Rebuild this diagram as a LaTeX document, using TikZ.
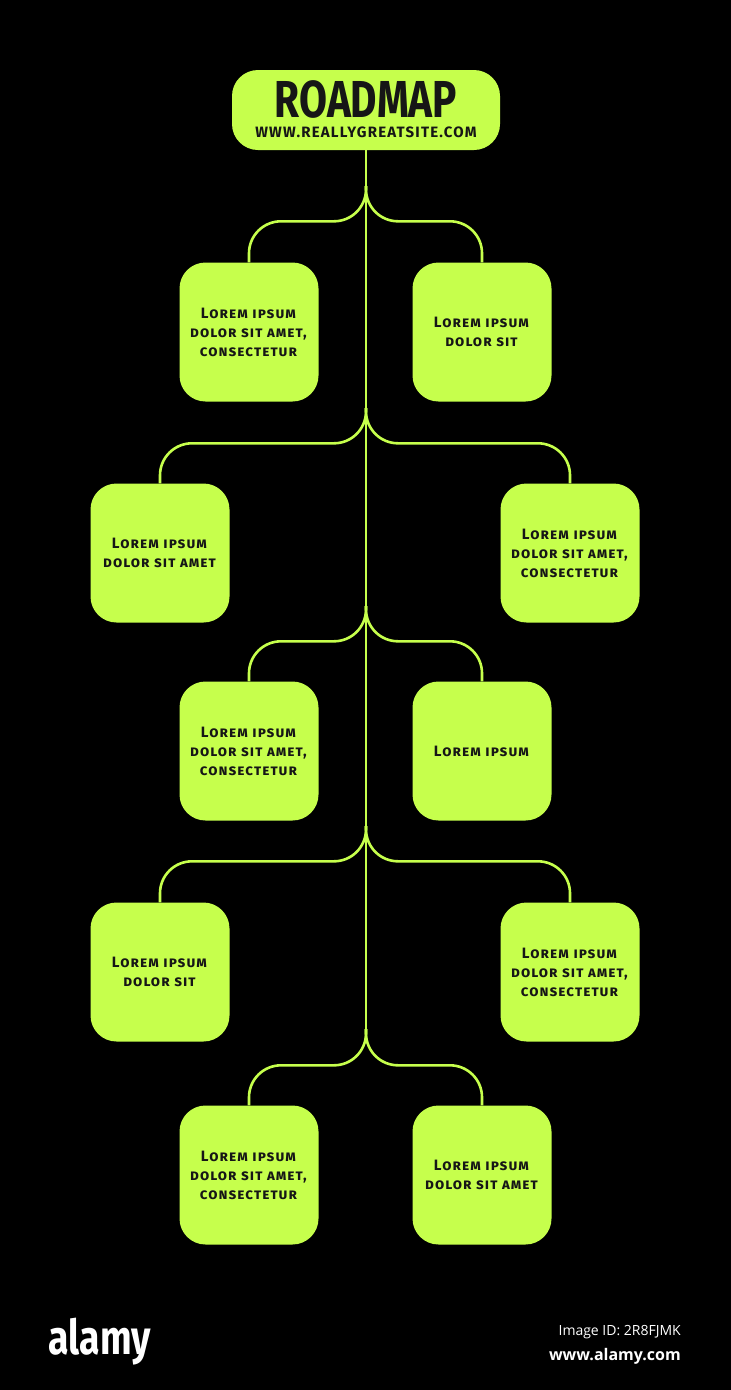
\documentclass[tikz,border=0pt]{standalone}
\usepackage{fontspec}
\setmainfont{Fira Sans}
\newfontfamily\cardfont{Fira Sans}[LetterSpace=7]
\newfontfamily\sitefont{Fira Sans}[LetterSpace=8]
\newfontfamily\headfont{Fira Sans}[FakeStretch=0.78]
\newfontfamily\markfont{Open Sans}
\usetikzlibrary{positioning}

\definecolor{lime}{RGB}{198,255,76}
\definecolor{ink}{RGB}{22,22,22}

\tikzset{
    card/.style={fill=lime, rounded corners=26pt, minimum width=139pt,
        minimum height=139pt, align=center, text=ink, inner sep=0pt,
        font=\cardfont\bfseries\fontsize{15}{19}\selectfont},
    headbox/.style={fill=lime, rounded corners=26pt, minimum width=268pt,
        minimum height=80pt, inner sep=0pt},
    branch/.style={draw=lime, line width=2.6pt, rounded corners=32pt},
    trunk/.style={draw=lime, line width=2.6pt}
}

\begin{document}
\begin{tikzpicture}[x=1pt,y=-1pt]

\fill[black] (0,0) rectangle (731,1390);
\useasboundingbox (0,0) rectangle (731,1390);

% title
\node[headbox] (top) at (366,110) {};
\node[text=ink, inner sep=0pt, align=center, font=\bfseries\fontsize{15}{20}\selectfont] (title) at (366,109)
    {{\headfont\fontsize{52}{52}\selectfont ROADMAP}\\{\sitefont WWW.REALLYGREATSITE.COM}};

% boxes
\node[card] (11) at (249,332) {\textsc{Lorem ipsum}\\\textsc{dolor sit amet,}\\\textsc{consectetur}};
\node[card] (12) at (482,332) {\textsc{Lorem ipsum}\\\textsc{dolor sit}};

\node[card] (21) at (160,553) {\textsc{Lorem ipsum}\\\textsc{dolor sit amet}};
\node[card] (22) at (570,553) {\textsc{Lorem ipsum}\\\textsc{dolor sit amet,}\\\textsc{consectetur}};

\node[card] (31) at (249,751) {\textsc{Lorem ipsum}\\\textsc{dolor sit amet,}\\\textsc{consectetur}};
\node[card] (32) at (482,751) {\textsc{Lorem ipsum}};

\node[card] (41) at (160,972) {\textsc{Lorem ipsum}\\\textsc{dolor sit}};
\node[card] (42) at (570,972) {\textsc{Lorem ipsum}\\\textsc{dolor sit amet,}\\\textsc{consectetur}};

\node[card] (51) at (249,1175) {\textsc{Lorem ipsum}\\\textsc{dolor sit amet,}\\\textsc{consectetur}};
\node[card] (52) at (482,1175) {\textsc{Lorem ipsum}\\\textsc{dolor sit amet}};

% forks on the trunk
\coordinate (f1) at (366,186);
\coordinate (f2) at (366,408);
\coordinate (f3) at (366,606);
\coordinate (f4) at (366,826);
\coordinate (f5) at (366,1029);

\draw[trunk] (top.south)--(f5);

\draw[branch] (f1) |- ([yshift=41pt]11.north) -- (11.north);
\draw[branch] (f1) |- ([yshift=41pt]12.north) -- (12.north);
\draw[branch] (f2) |- ([yshift=40pt]21.north) -- (21.north);
\draw[branch] (f2) |- ([yshift=40pt]22.north) -- (22.north);
\draw[branch] (f3) |- ([yshift=40pt]31.north) -- (31.north);
\draw[branch] (f3) |- ([yshift=40pt]32.north) -- (32.north);
\draw[branch] (f4) |- ([yshift=41pt]41.north) -- (41.north);
\draw[branch] (f4) |- ([yshift=41pt]42.north) -- (42.north);
\draw[branch] (f5) |- ([yshift=40pt]51.north) -- (51.north);
\draw[branch] (f5) |- ([yshift=40pt]52.north) -- (52.north);

% banner
\node[text=white, font=\headfont\bfseries\fontsize{48}{48}\selectfont] (logo) at (100,1342) {alamy};
\node[text=white, anchor=east, inner sep=0pt, font=\markfont\fontsize{14}{14}\selectfont] (imgid) at (681,1332) {Image ID: 2R8FJMK};
\node[text=white, anchor=east, inner sep=0pt, font=\markfont\bfseries\fontsize{16}{16}\selectfont] (www) at (681,1356) {www.alamy.com};

\end{tikzpicture}
\end{document}
